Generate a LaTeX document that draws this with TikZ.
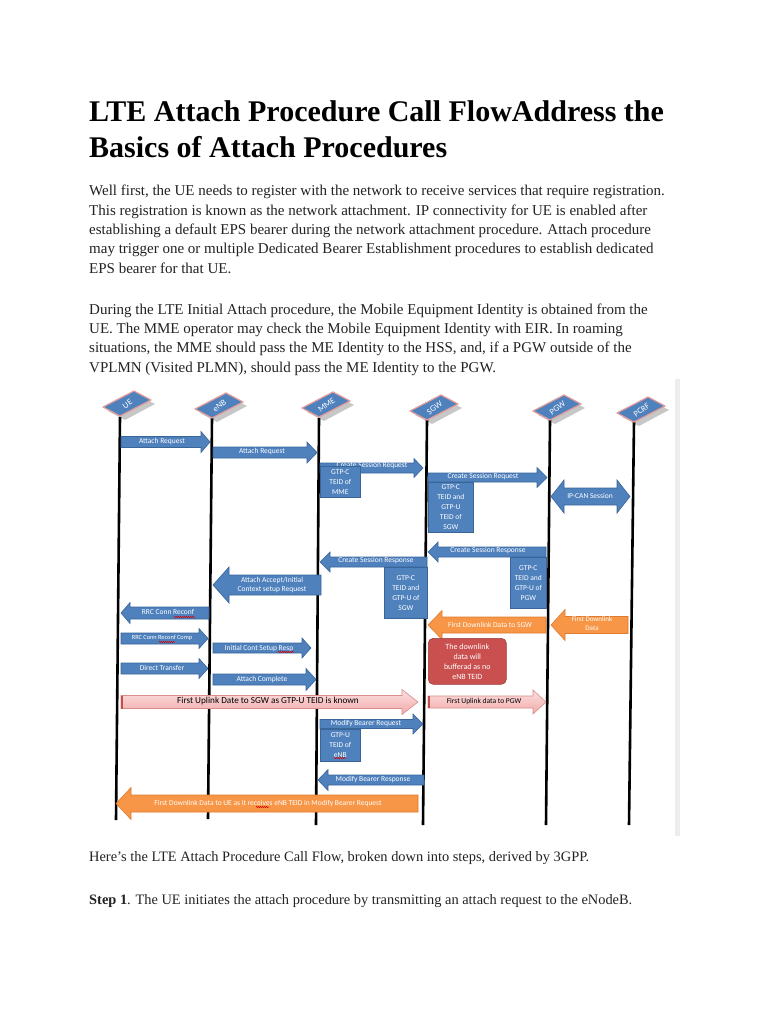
\documentclass[tikz,border=0pt]{standalone}
\usepackage{fontspec}
\setmainfont{Liberation Serif}
\newfontfamily\diagfont{Carlito}
\usetikzlibrary{decorations.pathmorphing}
\definecolor{arrblue}{HTML}{4F81BD}
\definecolor{arrblueedge}{HTML}{3A6599}
\definecolor{arrorange}{HTML}{F79646}
\definecolor{arrorangeedge}{HTML}{E07B2E}
\definecolor{pinktop}{HTML}{FBE0E0}
\definecolor{pinkbot}{HTML}{F2A9A9}
\definecolor{pinkedge}{HTML}{D98C8C}
\definecolor{tailred}{HTML}{C0504D}
\definecolor{boxred}{HTML}{C9504E}
\definecolor{hdredge}{HTML}{E39C9A}
\definecolor{textcol}{HTML}{222222}
\newcommand\blockarrow[7]{%
  \pgfmathsetmacro\adir{2*(#3>#2)-1}%
  \pgfmathsetmacro\neck{#3-\adir*#7}%
  \draw[#1] (#2,#4-#5) -- (\neck,#4-#5) -- (\neck,#4-#6) -- (#3,#4) -- (\neck,#4+#6) -- (\neck,#4+#5) -- (#2,#4+#5) -- cycle;%
}
\newcommand\hdrshape[4]{%
  \begin{scope}[shift={(#2,#3)}]
    \fill[black, opacity=0.22] (-19,6) -- (11,-10) -- (28,-1) -- (-2,15) -- cycle;
    \draw[hdrbox] (-24,2) -- (7,-14) -- (24,-5) -- (-7,11) -- cycle;
  \end{scope}
  \node[hdrtext, rotate=36] (#1) at (#2+0.5,#3-1) {#4};
}
\begin{document}
\begin{tikzpicture}[x=1pt,y=-1pt,
  hdrbox/.style={fill=arrblue, draw=hdredge, line width=1.2pt, line join=round},
  hdrtext/.style={font=\diagfont\fontsize{8.5}{9}\selectfont, text=white, inner sep=0pt},
  bluearrow/.style={fill=arrblue, draw=arrblueedge, line width=0.6pt, line join=miter},
  orangearrow/.style={fill=arrorange, draw=arrorangeedge, line width=0.6pt},
  pinkarrow/.style={top color=pinktop, bottom color=pinkbot, draw=pinkedge, line width=0.6pt},
  lbl/.style={font=\diagfont\fontsize{7.5}{9}\selectfont, text=white, inner sep=0pt, align=center},
  dlbl/.style={font=\diagfont\fontsize{9.2}{10}\selectfont, text=black, inner sep=0pt},
  gtpbox/.style={fill=arrblue, draw=arrblueedge, line width=0.6pt, inner sep=0pt, anchor=north west,
    font=\diagfont\fontsize{7.5}{10}\selectfont, text=white, align=center},
  lifeline/.style={line width=2.6pt, black},
  squig/.style={draw=red!85!black, line width=0.5pt, decorate, decoration={snake, amplitude=0.6pt, segment length=2pt}},
  titletext/.style={anchor=base west, inner sep=0pt, font=\fontsize{30}{36}\bfseries\selectfont, text=black},
  bodytext/.style={anchor=base west, inner sep=0pt, font=\fontsize{15}{18}\selectfont, text=textcol},
  bottomtext/.style={anchor=base west, inner sep=0pt, font=\fontsize{14.4}{18}\selectfont, text=textcol}]
\useasboundingbox (0,0) rectangle (768,1024);
\fill[white] (0,0) rectangle (768,1024);

% ---------- title ----------
\node[titletext] (t1) at (89,122) {LTE Attach Procedure Call FlowAddress the};
\node[titletext] (t2) at (89,158) {Basics of Attach Procedures};

% ---------- paragraphs ----------
\def\pitch{19.3}
\node[bodytext] (p1a) at (89,196) {Well first, the UE needs to register with the network to receive services that require registration.};
\node[bodytext] (p1b) at (89,196+\pitch) {This registration is known as the network attachment. IP connectivity for UE is enabled after};
\node[bodytext] (p1c) at (89,196+2*\pitch) {establishing a default EPS bearer during the network attachment procedure. Attach procedure};
\node[bodytext] (p1d) at (89,196+3*\pitch) {may trigger one or multiple Dedicated Bearer Establishment procedures to establish dedicated};
\node[bodytext] (p1e) at (89,196+4*\pitch) {EPS bearer for that UE.};
\node[bodytext] (p2a) at (89,237+4*\pitch) {During the LTE Initial Attach procedure, the Mobile Equipment Identity is obtained from the};
\node[bodytext] (p2b) at (89,237+5*\pitch) {UE. The MME operator may check the Mobile Equipment Identity with EIR. In roaming};
\node[bodytext] (p2c) at (89,237+6*\pitch) {situations, the MME should pass the ME Identity to the HSS, and, if a PGW outside of the};
\node[bodytext] (p2d) at (89,237+7*\pitch) {VPLMN (Visited PLMN), should pass the ME Identity to the PGW.};

\node[bottomtext] (p3) at (89,861.5) {Here’s the LTE Attach Procedure Call Flow, broken down into steps, derived by 3GPP.};
\node[bottomtext] (p4) at (89,904.5) {\textbf{Step 1}. The UE initiates the attach procedure by transmitting an attach request to the eNodeB.};

% ---------- diagram frame hint ----------
\fill[black!7] (675,379) rectangle (680,836);

% ---------- lifelines ----------
\coordinate (ueT) at (120,417);   \coordinate (ueB) at (116,820);
\coordinate (enbT) at (212,418);  \coordinate (enbB) at (208,819);
\coordinate (mmeT) at (319,418);  \coordinate (mmeB) at (316,825);
\coordinate (sgwT) at (427,420);  \coordinate (sgwB) at (423,825);
\coordinate (pgwT) at (550,420);  \coordinate (pgwB) at (546,825);
\coordinate (pcrfT) at (634,421); \coordinate (pcrfB) at (629,825);
\draw[lifeline] (ueT) -- (ueB);
\draw[lifeline] (enbT) -- (enbB);
\draw[lifeline] (mmeT) -- (mmeB);
\draw[lifeline] (sgwT) -- (sgwB);
\draw[lifeline] (pgwT) -- (pgwB);
\draw[lifeline] (pcrfT) -- (pcrfB);

% ---------- headers ----------
\hdrshape{ue}{127}{405}{UE}
\hdrshape{enb}{219}{407}{eNB}
\hdrshape{mme}{326}{406}{MME}
\hdrshape{sgw}{434}{409}{SGW}
\hdrshape{pgw}{557}{409}{PGW}
\hdrshape{pcrf}{641}{411}{PCRF}

% ---------- messages ----------
\blockarrow{bluearrow}{121}{210}{442}{5.5}{10.5}{9}
\node[lbl] (m1) at (162,441.5) {Attach Request};

\blockarrow{bluearrow}{213}{317}{452.5}{5.5}{10.5}{10}
\node[lbl] (m2) at (262,451.5) {Attach Request};

\blockarrow{bluearrow}{320}{423}{468}{5}{9.5}{9}
\node[lbl] (m3) at (372,465.5) {Create Session Request};
\node[gtpbox, minimum width=40pt, minimum height=31pt] (g1) at (320,466) {GTP-C\\TEID of\\MME};

\blockarrow{bluearrow}{428}{547}{477.5}{4.5}{10}{10}
\node[lbl] (m4) at (483,476.5) {Create Session Request};
\node[gtpbox, minimum width=45pt, minimum height=50pt] (g2) at (428,482) {GTP-C\\TEID and\\GTP-U\\TEID of\\SGW};

% IP-CAN double arrow
\draw[bluearrow] (551,496.5) -- (564,480) -- (564,488) -- (617,488) -- (617,480) -- (630,496.5) -- (617,513) -- (617,505) -- (564,505) -- (564,513) -- cycle;
\node[lbl] (m5) at (590,496) {IP-CAN Session};

\blockarrow{bluearrow}{546}{428}{552}{5}{10}{10}
\node[lbl] (m6) at (488,551) {Create Session Response};
\node[gtpbox, minimum width=36pt, minimum height=51pt] (g3) at (510,557) {GTP-C\\TEID and\\GTP-U of\\PGW};

\blockarrow{bluearrow}{427}{320}{562}{5}{10}{10}
\node[lbl] (m7) at (376,561) {Create Session Response};
\node[gtpbox, minimum width=43pt, minimum height=51pt] (g4) at (384,567) {GTP-C\\TEID and\\GTP-U of\\SGW};

\blockarrow{bluearrow}{321}{213}{585}{10}{18}{16}
\node[lbl] (m8) at (272,585) {Attach Accept/Initial\\Context setup Request};

\blockarrow{bluearrow}{209}{121}{613}{6}{10.5}{9}
\node[lbl] (m9) at (168,612) {RRC Conn Reconf};
\draw[squig] (174,617) -- (195,617);

\blockarrow{bluearrow}{121}{208}{638.5}{5.5}{10}{9}
\node[lbl, font=\diagfont\fontsize{6.3}{7}\selectfont] (m10) at (162,638) {RRC Conn Reconf Comp};
\draw[squig] (159,642) -- (175,642);

\blockarrow{bluearrow}{213}{311}{648}{5}{10}{9}
\node[lbl] (m11) at (259,648) {Initial Cont Setup Resp};
\draw[squig] (278,652) -- (294,652);

\blockarrow{bluearrow}{121}{208}{668.5}{5.5}{10}{9}
\node[lbl] (m12) at (162,668) {Direct Transfer};

\blockarrow{bluearrow}{213}{316}{679.5}{5.5}{11}{10}
\node[lbl] (m13) at (262,679) {Attach Complete};

% orange downlink (PGW->SGW) and (PCRF->PGW)
\blockarrow{orangearrow}{546}{428}{625}{8}{14.5}{14}
\node[lbl] (m14) at (490,625) {First Downlink Data to SGW};
\blockarrow{orangearrow}{628}{551}{625}{8.5}{15.5}{14}
\node[lbl, font=\diagfont\fontsize{7}{9}\selectfont] (m15) at (592,624) {First Downlink\\Data};

% buffered box
\node[fill=boxred, draw=boxred!75!black, line width=0.6pt, rounded corners=5pt, anchor=north west,
  minimum width=78pt, minimum height=46pt, inner sep=0pt, align=center, text=white,
  font=\diagfont\fontsize{8}{10}\selectfont] (buf) at (428,638) {The downlink\\data will\\bufferad as no\\eNB TEID};

% pink uplink
\blockarrow{pinkarrow}{121}{418}{702}{6.5}{12.5}{16}
\draw[tailred, line width=2pt] (122,695.5) -- (122,708.5);
\node[dlbl] (m16) at (268,701.5) {First Uplink Date to SGW as GTP-U TEID is known};
\blockarrow{pinkarrow}{428}{546}{702}{6}{12}{13}
\draw[tailred, line width=1.5pt] (429,696) -- (429,708);
\node[lbl, text=black] (m17) at (484,701) {First Uplink data to PGW};

\blockarrow{bluearrow}{320}{423}{724}{4.5}{10}{10}
\node[lbl] (m18) at (366,723) {Modify Bearer Request};
\node[gtpbox, minimum width=40pt, minimum height=32pt] (g5) at (320,728.5) {GTP-U\\TEID of\\eNB};
\draw[squig] (334,758) -- (346,758);

\blockarrow{bluearrow}{424}{318}{780}{5}{10.5}{10}
\node[lbl] (m19) at (373,779.5) {Modify Bearer Response};

\blockarrow{orangearrow}{418}{116}{803.5}{8.5}{16}{15}
\node[lbl] (m20) at (268,803) {First Downlink Data to UE as it receives eNB TEID in Modify Bearer Request};
\draw[squig] (256,807) -- (269,807);
\end{tikzpicture}
\end{document}
